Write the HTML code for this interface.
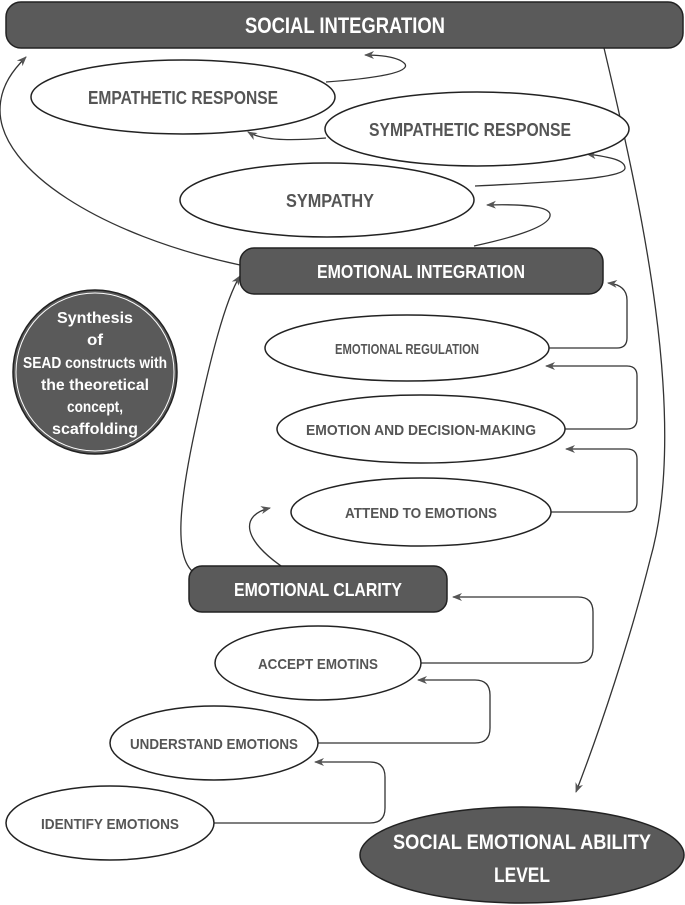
<!DOCTYPE html>
<html><head><meta charset="utf-8"><style>
body{margin:0;background:#fff}
svg{display:block}
text{font-family:"Liberation Sans Narrow","Liberation Sans",sans-serif;font-weight:bold;text-anchor:middle}
.w{fill:#fff}.g{fill:#555}
</style></head><body>
<svg width="685" height="905" viewBox="0 0 685 905" xmlns="http://www.w3.org/2000/svg">
<defs><marker id="a" markerWidth="10" markerHeight="8" refX="9" refY="4" orient="auto" markerUnits="userSpaceOnUse"><path d="M0,0 L10,4 L0,8 L3,4z" fill="#555"/></marker></defs>
<g fill="none" stroke="#333" stroke-width="1.3">
<path d="M326,82 C380,78 410,72 405,64 C400,58 385,55 365,55" marker-end="url(#a)"/>
<path d="M326,138 C300,140 265,142 248,132" marker-end="url(#a)"/>
<path d="M475,186 C560,182 625,178 625,168 C625,160 610,157 587,154" marker-end="url(#a)"/>
<path d="M474,246 C520,236 552,225 550,214 C548,206 520,204 487,205" marker-end="url(#a)"/>
<path d="M240,265 C100,235 0,170 0,110 C0,85 15,68 26,57" marker-end="url(#a)"/>
<path d="M604,48 C640,200 690,420 650,560 C630,640 600,730 576,792" marker-end="url(#a)"/>
<path d="M549,348 H617 Q627,348 627,338 V300 Q627,285 608,283" marker-end="url(#a)"/>
<path d="M565,429 H627 Q637,429 637,419 V376 Q637,366 627,366 H546" marker-end="url(#a)"/>
<path d="M551,512 H627 Q637,512 637,502 V459 Q637,449 627,449 H566" marker-end="url(#a)"/>
<path d="M290,572 C240,540 240,515 270,508" marker-end="url(#a)"/>
<path d="M202,576 C170,570 180,500 195,430 C210,360 225,300 240,276" marker-end="url(#a)"/>
<path d="M421,663 H578 Q593,663 593,648 V612 Q593,597 578,597 H453" marker-end="url(#a)"/>
<path d="M318,743 H475 Q490,743 490,728 V695 Q490,680 475,680 H418" marker-end="url(#a)"/>
<path d="M214,823 H370 Q385,823 385,808 V777 Q385,762 370,762 H315" marker-end="url(#a)"/>
</g>
<g stroke="#222" stroke-width="1.5">
<rect x="6" y="2" width="677" height="46" rx="15" fill="#5a5a5a"/>
<ellipse cx="183" cy="97" rx="152" ry="37" fill="#fff"/>
<ellipse cx="477" cy="129" rx="152" ry="37" fill="#fff"/>
<ellipse cx="327" cy="200" rx="147" ry="37" fill="#fff"/>
<rect x="240" y="248" width="363" height="46" rx="14" fill="#5a5a5a"/>
<circle cx="95" cy="372" r="82" fill="#5a5a5a"/>
<ellipse cx="407" cy="348" rx="142" ry="33" fill="#fff"/>
<ellipse cx="421" cy="429" rx="144" ry="34" fill="#fff"/>
<ellipse cx="421" cy="512" rx="130" ry="34" fill="#fff"/>
<rect x="189" y="566" width="258" height="46" rx="13" fill="#5a5a5a"/>
<ellipse cx="318" cy="663" rx="103" ry="37" fill="#fff"/>
<ellipse cx="214" cy="743" rx="104" ry="37" fill="#fff"/>
<ellipse cx="110" cy="823" rx="104" ry="37" fill="#fff"/>
<ellipse cx="522" cy="855" rx="162" ry="48" fill="#5a5a5a"/>
</g>
<circle cx="95" cy="372" r="79" fill="none" stroke="#fff" stroke-width="1"/>
<text x="345" y="33" font-size="22" class="w" textLength="200" lengthAdjust="spacingAndGlyphs">SOCIAL INTEGRATION</text>
<text x="183" y="104" font-size="18" class="g" textLength="190" lengthAdjust="spacingAndGlyphs">EMPATHETIC RESPONSE</text>
<text x="470" y="136" font-size="18" class="g" textLength="202" lengthAdjust="spacingAndGlyphs">SYMPATHETIC RESPONSE</text>
<text x="330" y="207" font-size="18" class="g" textLength="88" lengthAdjust="spacingAndGlyphs">SYMPATHY</text>
<text x="421" y="278" font-size="18" class="w" textLength="208" lengthAdjust="spacingAndGlyphs">EMOTIONAL INTEGRATION</text>
<g font-size="16" class="w">
<text x="95" y="323" textLength="76" lengthAdjust="spacingAndGlyphs">Synthesis</text>
<text x="95" y="345" textLength="16" lengthAdjust="spacingAndGlyphs">of</text>
<text x="95" y="368" textLength="144" lengthAdjust="spacingAndGlyphs">SEAD constructs with</text>
<text x="95" y="390" textLength="108" lengthAdjust="spacingAndGlyphs">the theoretical</text>
<text x="95" y="412" textLength="56" lengthAdjust="spacingAndGlyphs">concept,</text>
<text x="95" y="434" textLength="86" lengthAdjust="spacingAndGlyphs">scaffolding</text>
</g>
<text x="407" y="354" font-size="15" class="g" textLength="144" lengthAdjust="spacingAndGlyphs">EMOTIONAL REGULATION</text>
<text x="421" y="435" font-size="15" class="g" textLength="230" lengthAdjust="spacingAndGlyphs">EMOTION AND DECISION-MAKING</text>
<text x="421" y="518" font-size="15" class="g" textLength="152" lengthAdjust="spacingAndGlyphs">ATTEND TO EMOTIONS</text>
<text x="318" y="596" font-size="18" class="w" textLength="168" lengthAdjust="spacingAndGlyphs">EMOTIONAL CLARITY</text>
<text x="318" y="669" font-size="15" class="g" textLength="120" lengthAdjust="spacingAndGlyphs">ACCEPT EMOTINS</text>
<text x="214" y="749" font-size="15" class="g" textLength="168" lengthAdjust="spacingAndGlyphs">UNDERSTAND EMOTIONS</text>
<text x="110" y="829" font-size="15" class="g" textLength="138" lengthAdjust="spacingAndGlyphs">IDENTIFY EMOTIONS</text>
<text x="522" y="849" font-size="21" class="w" textLength="258" lengthAdjust="spacingAndGlyphs">SOCIAL EMOTIONAL ABILITY</text>
<text x="522" y="882" font-size="21" class="w" textLength="56" lengthAdjust="spacingAndGlyphs">LEVEL</text>
</svg>
</body></html>
